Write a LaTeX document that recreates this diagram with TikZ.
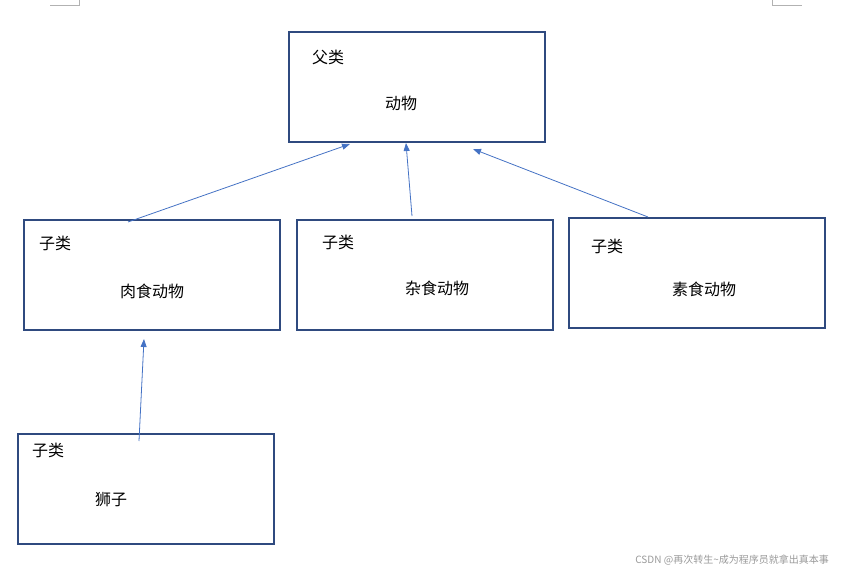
\documentclass[tikz,border=0pt]{standalone}
\usepackage{fontspec}
\newfontfamily\cjk{Noto Sans CJK SC}
\usetikzlibrary{arrows.meta}
\definecolor{boxc}{HTML}{2F4A7F}
\definecolor{arrc}{HTML}{4472C4}
\begin{document}
\begin{tikzpicture}[x=1pt,y=-1pt,
  box/.style={draw=boxc,line width=1.6pt,minimum width=256pt,minimum height=110pt,inner sep=0pt},
  txt/.style={font=\cjk\fontsize{16}{18}\selectfont,inner sep=0pt},
  arr/.style={draw=arrc,line width=0.8pt,-{Triangle[length=8pt,width=6pt]}}]
\useasboundingbox (0,0) rectangle (844,575);
\node[box] (top) at (417,87) {};
\node[box] (a) at (152,275) {};
\node[box] (b) at (425,275) {};
\node[box] (c) at (697,273) {};
\node[box] (d) at (146,489) {};
\node[txt] (t1) at (328,57) {父类};
\node[txt] (t2) at (401,103) {动物};
\node[txt] (a1) at (55,243) {子类};
\node[txt] (a2) at (152,291) {肉食动物};
\node[txt] (b1) at (338,242) {子类};
\node[txt] (b2) at (437,288) {杂食动物};
\node[txt] (c1) at (607,246) {子类};
\node[txt] (c2) at (704,289) {素食动物};
\node[txt] (d1) at (48,450) {子类};
\node[txt] (d2) at (111,500) {狮子};
\coordinate (as) at (128,222); \coordinate (ae) at (350,144);
\coordinate (bs) at (412,216); \coordinate (be) at (406,143);
\coordinate (cs) at (648,217); \coordinate (ce) at (473,149);
\coordinate (ds) at (139,441); \coordinate (de) at (144,339);
\draw[arr] (as) -- (ae);
\draw[arr] (bs) -- (be);
\draw[arr] (cs) -- (ce);
\draw[arr] (ds) -- (de);
\draw[gray!60,line width=0.8pt] (79,0) -- (79,5) -- (50,5);
\draw[gray!60,line width=0.8pt] (772,0) -- (772,5) -- (802,5);
\node[font=\cjk\fontsize{10}{12}\selectfont,text=gray!80,anchor=east,inner sep=0pt] (wm) at (829,560) {CSDN @再次转生\textasciitilde 成为程序员就拿出真本事};
\end{tikzpicture}
\end{document}
